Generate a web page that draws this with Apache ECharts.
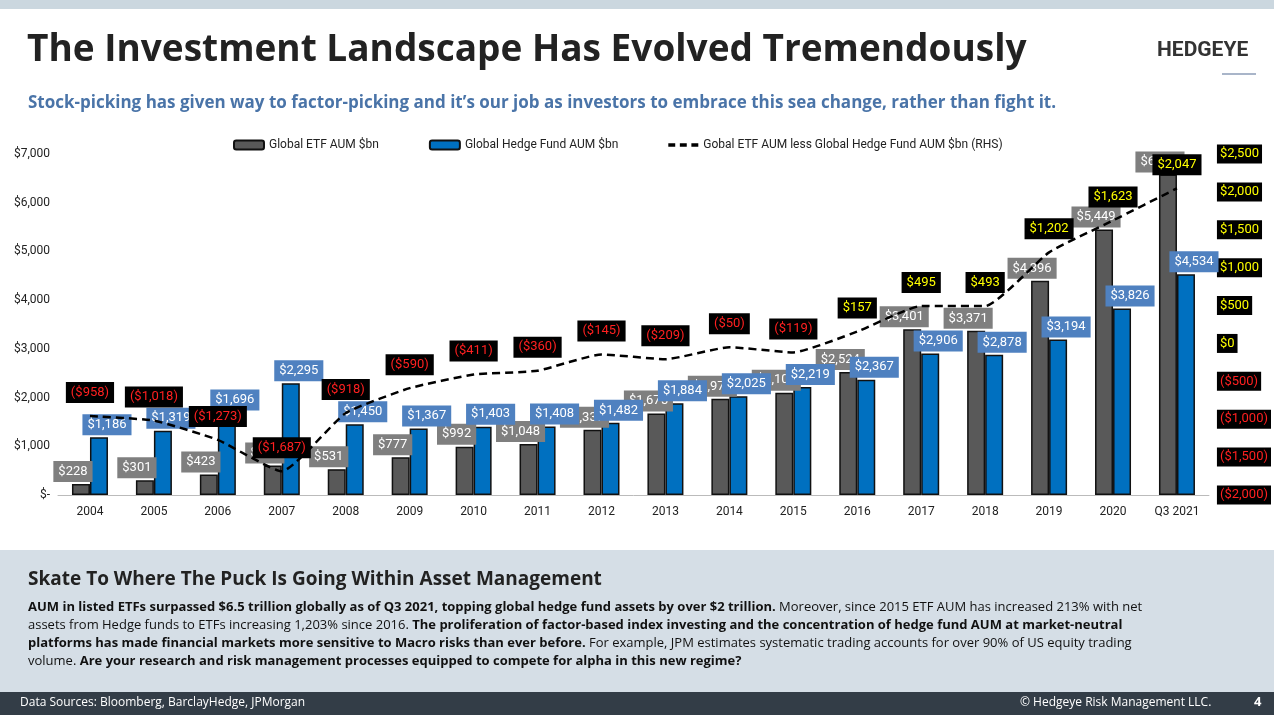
<!DOCTYPE html><html><head><meta charset="utf-8">
<script src="https://cdn.jsdelivr.net/npm/echarts@6/dist/echarts.min.js"></script>
<style>body{margin:0}#c{width:1274px;height:715px}</style></head><body><div id="c"></div>
<script>
const categories=['2004','2005','2006','2007','2008','2009','2010','2011','2012','2013','2014','2015','2016','2017','2018','2019','2020','Q3 2021'];
const etfAUM=[228,301,423,608,531,777,992,1048,1337,1675,1975,2101,2524,3401,3371,4396,5449,6581];
const hfAUM=[1186,1319,1696,2295,1450,1367,1403,1408,1482,1884,2025,2219,2367,2906,2878,3194,3826,4534];
const diff=[-958,-1018,-1273,-1687,-918,-590,-411,-360,-145,-209,-50,-119,157,495,493,1202,1623,2047];
const fmt=v=>v<0?'($'+Math.abs(v).toLocaleString('en-US')+')':'$'+v.toLocaleString('en-US');
const F='Roboto, Arial, sans-serif';
const ch=echarts.init(document.getElementById('c'));
ch.setOption({
 animation:false,
 graphic:[
  {type:'rect',shape:{x:0,y:0,width:1274,height:9},style:{fill:'#cbd7df'}},
  {type:'text',left:27,top:32,style:{text:'The Investment Landscape Has Evolved Tremendously',font:'bold 37px "Open Sans", sans-serif',fill:'#222'}},
  {type:'text',left:1157,top:40,style:{text:'HEDGEYE',font:'bold 21px Roboto, sans-serif',fill:'#333'}},
  {type:'rect',shape:{x:1222,y:73,width:34,height:2},style:{fill:'#a9b5c9'}},
  {type:'text',left:28,top:95,style:{text:'Stock-picking has given way to factor-picking and it’s our job as investors to embrace this sea change, rather than fight it.',font:'bold 17px "Open Sans", sans-serif',fill:'#4a74a8'}},
  {type:'rect',shape:{x:0,y:550,width:1274,height:142},style:{fill:'#d5dee6'}},
  {type:'text',left:28,top:570,style:{text:'Skate To Where The Puck Is Going Within Asset Management',font:'bold 19px "Open Sans", sans-serif',fill:'#222'}},
  {type:'text',left:28,top:601,style:{rich:{b:{font:'bold 13px "Open Sans", sans-serif',fill:'#111',lineHeight:18},n:{font:'13px "Open Sans", sans-serif',fill:'#111',lineHeight:18}},
   text:'{b|AUM in listed ETFs surpassed $6.5 trillion globally as of Q3 2021, topping global hedge fund assets by over $2 trillion.}{n| Moreover, since 2015 ETF AUM has increased 213% with net}\n{n|assets from Hedge funds to ETFs increasing 1,203% since 2016. }{b|The proliferation of factor-based index investing and the concentration of hedge fund AUM at market-neutral}\n{b|platforms has made financial markets more sensitive to Macro risks than ever before.}{n| For example, JPM estimates systematic trading accounts for over 90% of US equity trading}\n{n|volume. }{b|Are your research and risk management processes equipped to compete for alpha in this new regime?}'}},
  {type:'rect',shape:{x:0,y:692,width:1274,height:23},style:{fill:'#333d47'}},
  {type:'text',left:20,top:697,style:{text:'Data Sources: Bloomberg, BarclayHedge, JPMorgan',font:'12px "Open Sans", sans-serif',fill:'#fff'}},
  {type:'text',left:1020,top:697,style:{text:'© Hedgeye Risk Management LLC.',font:'12px "Open Sans", sans-serif',fill:'#fff'}},
  {type:'text',left:1254,top:696,style:{text:'4',font:'bold 13px "Open Sans", sans-serif',fill:'#fff'}}
 ],
 legend:{top:134,left:228,itemGap:50,itemWidth:30,itemHeight:9,textStyle:{fontFamily:F,fontSize:12,color:'#222'},
  data:[{name:'Global ETF AUM $bn'},{name:'Global Hedge Fund AUM $bn'},{name:'Gobal ETF AUM less Global Hedge Fund AUM $bn (RHS)',icon:'path://M0,0H6V3H0Z M10,0H16V3H10Z M20,0H26V3H20Z',itemStyle:{color:'#000',opacity:1}}]},
 grid:{left:58,right:62,top:154,bottom:220},
 xAxis:{type:'category',data:categories,axisTick:{show:false},axisLine:{lineStyle:{color:'#bbb'}},axisLabel:{fontFamily:F,fontSize:12,color:'#222',margin:11}},
 yAxis:[{type:'value',min:0,max:7000,interval:1000,splitLine:{show:false},axisLine:{show:false},
   axisLabel:{fontFamily:F,fontSize:12,color:'#222',formatter:v=>v===0?'$-':'$'+v.toLocaleString('en-US')}},
  {type:'value',min:-2000,max:2500,interval:500,splitLine:{show:false},
   axisLabel:{fontFamily:F,fontSize:13,formatter:v=>fmt(v),backgroundColor:'#000',padding:[3,3],color:v=>v>=0?'#ffff00':'#ff2020'}}],
 series:[
  {name:'Global ETF AUM $bn',type:'bar',data:etfAUM,barWidth:18,barGap:'0%',itemStyle:{color:'#595959',borderColor:'#111',borderWidth:1.5},
   label:{show:true,position:'top',distance:2,formatter:p=>fmt(p.value),backgroundColor:'#7f7f7f',color:'#fff',fontFamily:F,fontSize:13,padding:[4,5],offset:[-8,0]}},
  {name:'Global Hedge Fund AUM $bn',type:'bar',data:hfAUM,barWidth:18,itemStyle:{color:'#0070c0',borderColor:'#111',borderWidth:1.5},
   label:{show:true,position:'top',distance:2,formatter:p=>fmt(p.value),backgroundColor:'#4f81c0',color:'#fff',fontFamily:F,fontSize:13,padding:[4,5],offset:[8,0]}},
  {name:'Gobal ETF AUM less Global Hedge Fund AUM $bn (RHS)',type:'line',yAxisIndex:1,smooth:0.15,symbol:'circle',symbolSize:2,showSymbol:true,z:5,
   itemStyle:{color:'rgba(0,0,0,0)'},
   data:diff.map(v=>({value:v,label:{color:v>=0?'#ffff00':'#ff2020'}})),
   lineStyle:{color:'#000',width:2.5,type:[8,5]},
   label:{show:true,position:'top',distance:12,formatter:p=>fmt(p.value),backgroundColor:'#000',fontFamily:F,fontSize:13,padding:[4,5]},
   labelLayout:{hideOverlap:false}}
 ]
});
</script></body></html>
